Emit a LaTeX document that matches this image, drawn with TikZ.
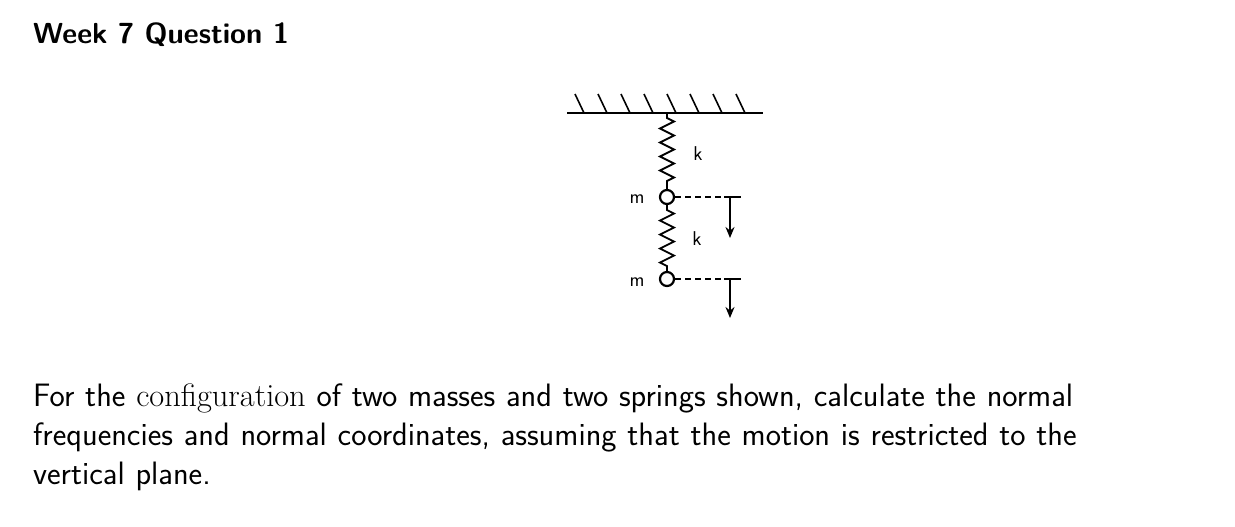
\documentclass[tikz,border=0pt]{standalone}
\usepackage{fontspec}
\usetikzlibrary{decorations.pathmorphing,arrows.meta}
\begin{document}
\begin{tikzpicture}[x=1pt,y=-1pt,
  lbl/.style={font=\sffamily\fontsize{20}{22}\selectfont,inner sep=0},
  mass/.style={circle,draw,line width=2.2pt,minimum size=14pt,inner sep=0},
  spr/.style={line width=1.8pt,decorate,decoration={zigzag,segment length=14pt,amplitude=7pt,pre length=5pt,post length=4pt}},
  dsh/.style={dashed,line width=1.3pt,dash pattern=on 6pt off 4pt},
  arr/.style={line width=1.8pt,-{Stealth[length=11pt,width=9pt]}}]
\useasboundingbox (0,0) rectangle (1235,527);
\node[anchor=base west,inner sep=0,font=\sffamily\bfseries\fontsize{29}{32}\selectfont] (title) at (33,44) {Week 7 Question 1};
% ceiling
\coordinate (cl) at (567,113);
\coordinate (cr) at (763,113);
\draw[line width=2.2pt] (cl) -- (cr);
\foreach \i in {0,...,7} \draw[line width=1.6pt] (575+23*\i,94) -- (584+23*\i,113);
\coordinate (top) at (667,113);
\node[mass] (m1) at (667,197) {};
\node[mass] (m2) at (667,279) {};
\draw[spr] (top) -- (m1.north);
\draw[spr] (m1.south) -- (m2.north);
\node[lbl] (k1) at (698,154) {k};
\node[lbl] (k2) at (697,239) {k};
\node[lbl] (l1) at (637,199) {m};
\node[lbl] (l2) at (637,282) {m};
\coordinate (d1) at (745,197);
\coordinate (d2) at (745,279);
\draw[dsh] (m1.east) -- (d1);
\draw[dsh] (m2.east) -- (d2);
\coordinate (a1s) at (730,197); \coordinate (a1e) at (730,238);
\coordinate (a2s) at (730,279); \coordinate (a2e) at (730,318);
\draw[arr] (a1s) -- (a1e);
\draw[arr] (a2s) -- (a2e);
\draw[line width=1.6pt] (724,197) -- (736,197) (724,279) -- (736,279);
\node[anchor=north west,inner sep=0,text width=1170pt,align=left,font=\sffamily\fontsize{32.4}{39}\selectfont] (body) at (33,384)
{For the {\rmfamily configuration} of two masses and two springs shown, calculate the normal\\
frequencies and normal coordinates, assuming that the motion is restricted to the\\
vertical plane.};
\end{tikzpicture}
\end{document}
